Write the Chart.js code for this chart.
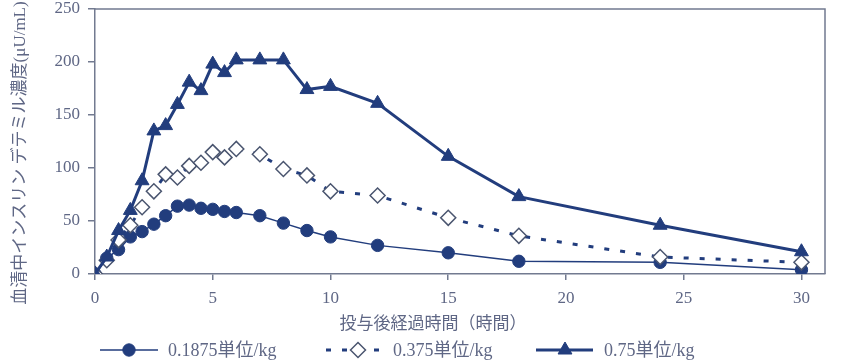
<!DOCTYPE html>
<html>
<head>
<meta charset="utf-8">
<script src="https://cdn.jsdelivr.net/npm/chart.js@4/dist/chart.umd.min.js"></script>
<style>
  html, body { margin: 0; padding: 0; background: #ffffff; }
  #wrap { width: 847px; height: 364px; position: relative; }
</style>
</head>
<body>
<div id="wrap"><canvas id="c" width="847" height="364"></canvas></div>
<script>
// ---- data ----
const hours = [0, 0.5, 1, 1.5, 2, 2.5, 3, 3.5, 4, 4.5, 5, 5.5, 6, 7, 8, 9, 10, 12, 15, 18, 24, 30];
const dose01875 = [0, 15, 23, 35, 40, 47, 55, 64, 65, 62, 61, 59, 58, 55, 48, 41, 35, 27, 20, 12, 11, 4];
const dose0375 = [0, 13, 32, 46, 63, 78, 94, 91, 102, 105, 115, 110, 118, 113, 99, 93, 78, 74, 53, 36, 16, 11];
const dose075 = [0, 16, 41, 60, 88, 135, 140, 160, 181, 173, 198, 190, 202, 202, 202, 174, 177, 161, 111, 73, 46, 21];
const seriesLabels = ['0.1875単位/kg', '0.375単位/kg', '0.75単位/kg'];
const xTitle = '投与後経過時間（時間）';
const yTitle = '血清中インスリン デテミル濃度(μU/mL)';
const xTickValues = [0, 5, 10, 15, 20, 25, 30];
const yTickValues = [0, 50, 100, 150, 200, 250];

const NAVY = '#223d7d';
const AXIS = '#727a90';
const TEXT = '#5f6785';
const FONT = "'Liberation Serif', 'Noto Sans CJK JP', serif";

function pts(ys) { return hours.map((h, i) => ({ x: h, y: ys[i] })); }

const frame = {
  id: 'frame',
  afterDraw(chart) {
    const { ctx, chartArea: a } = chart;
    ctx.save();
    ctx.strokeStyle = AXIS;
    ctx.lineWidth = 1.5;
    ctx.beginPath();
    ctx.moveTo(a.left, a.top);
    ctx.lineTo(a.right, a.top);
    ctx.lineTo(a.right, a.bottom);
    ctx.stroke();
    ctx.restore();
  }
};

// axis titles placed where the reference has them
const axisTitles = {
  id: 'axisTitles',
  afterDraw(chart) {
    const ctx = chart.ctx;
    ctx.save();
    ctx.fillStyle = TEXT;
    ctx.font = "17px " + FONT;
    ctx.textAlign = 'center';
    ctx.textBaseline = 'middle';
    ctx.fillText(xTitle, 433, 325);
    ctx.translate(21, 153);
    ctx.rotate(-Math.PI / 2);
    ctx.fillText(yTitle, 0, 0);
    ctx.restore();
  }
};

const legendSpots = [
  { x0: 100, x1: 158, mx: 129, tx: 168 },
  { x0: 326, x1: 390, mx: 358, tx: 393 },
  { x0: 536, x1: 593, mx: 565, tx: 604 }
];
const customLegend = {
  id: 'customLegend',
  afterDraw(chart) {
    const ctx = chart.ctx;
    const y = 350;
    chart.data.datasets.forEach((ds, i) => {
      const s = legendSpots[i];
      ctx.save();
      ctx.strokeStyle = ds.borderColor;
      ctx.lineWidth = ds.borderWidth;
      ctx.setLineDash(ds.borderDash || []);
      ctx.beginPath();
      ctx.moveTo(s.x0, y);
      ctx.lineTo(s.x1, y);
      ctx.stroke();
      ctx.setLineDash([]);
      ctx.fillStyle = ds.pointBackgroundColor;
      ctx.strokeStyle = ds.pointBorderColor;
      ctx.lineWidth = ds.pointBorderWidth;
      Chart.helpers.drawPoint(ctx, { pointStyle: ds.pointStyle, radius: ds.pointRadius, rotation: 0, borderWidth: ds.pointBorderWidth }, s.mx, y);
      ctx.fillStyle = TEXT;
      ctx.font = "18px " + FONT;
      ctx.textBaseline = 'middle';
      ctx.textAlign = 'left';
      ctx.fillText(ds.label, s.tx, y + 1);
      ctx.restore();
    });
  }
};

new Chart(document.getElementById('c'), {
  type: 'line',
  data: {
    datasets: [
      {
        label: seriesLabels[0], data: pts(dose01875),
        borderColor: NAVY, borderWidth: 1.5,
        pointStyle: 'circle', pointRadius: 6.2, pointBackgroundColor: NAVY, pointBorderColor: NAVY, pointBorderWidth: 1,
        tension: 0, order: 3
      },
      {
        label: seriesLabels[1], data: pts(dose0375),
        borderColor: NAVY, borderWidth: 3, borderDash: [5, 11],
        pointStyle: 'rectRot', pointRadius: 7.5, pointBackgroundColor: '#ffffff', pointBorderColor: '#4a556f', pointBorderWidth: 1.5,
        tension: 0, order: 2
      },
      {
        label: seriesLabels[2], data: pts(dose075),
        borderColor: NAVY, borderWidth: 3,
        pointStyle: 'triangle', pointRadius: 8, pointBackgroundColor: NAVY, pointBorderColor: NAVY, pointBorderWidth: 1,
        tension: 0, order: 1
      }
    ]
  },
  options: {
    responsive: false,
    animation: false,
    devicePixelRatio: 1,
    layout: { padding: { top: 7, right: 22, bottom: 27, left: 0 } },
    plugins: { legend: { display: false }, tooltip: { enabled: false } },
    scales: {
      x: {
        type: 'linear', min: 0, max: 31,
        afterBuildTicks(scale) { scale.ticks = xTickValues.map(v => ({ value: v })); },
        afterFit(scale) { scale.height = 63; scale.paddingLeft = 0; scale.paddingRight = 0; },
        ticks: { color: TEXT, font: { family: FONT, size: 17 }, padding: 8, includeBounds: false, maxRotation: 0 },
        grid: { drawOnChartArea: false, tickLength: 6, color: AXIS, lineWidth: 1.5 },
        border: { color: AXIS, width: 1.5 },
        title: { display: false }
      },
      y: {
        type: 'linear', min: 0, max: 250,
        afterBuildTicks(scale) { scale.ticks = yTickValues.map(v => ({ value: v })); },
        afterFit(scale) { scale.width = 95; scale.paddingTop = 0; scale.paddingBottom = 0; },
        ticks: { color: TEXT, font: { family: FONT, size: 17 }, padding: 8 },
        grid: { drawOnChartArea: false, tickLength: 7, color: AXIS, lineWidth: 1.5 },
        border: { color: AXIS, width: 1.5 },
        title: { display: false }
      }
    }
  },
  plugins: [frame, axisTitles, customLegend]
});
</script>
</body>
</html>
